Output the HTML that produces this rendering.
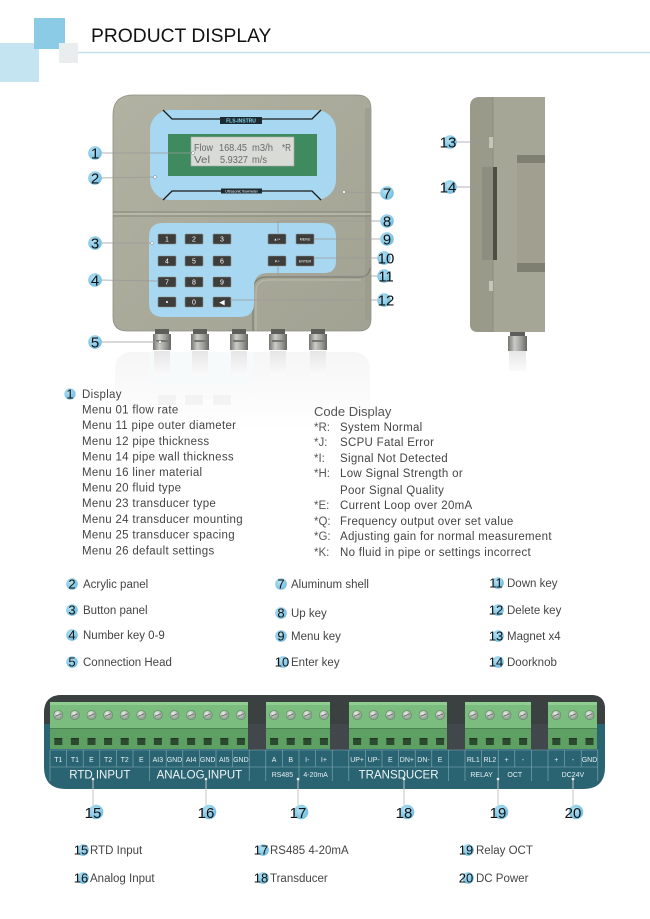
<!DOCTYPE html>
<html><head><meta charset="utf-8"><style>
html,body{margin:0;padding:0;background:#fff;}
svg{display:block;font-family:"Liberation Sans",Arial,sans-serif;}
.n{font-size:15px;fill:#111;text-anchor:middle;}
.ln{font-size:13px;fill:#111;text-anchor:middle;}
.t{font-size:11.5px;fill:#444;letter-spacing:0.3px;}
.lg{font-size:11.5px;fill:#444;}
.k{font-size:7px;fill:#fff;text-anchor:middle;}
.ks{font-size:3.6px;fill:#fff;text-anchor:middle;}
.r1{font-size:7px;fill:#e6eff1;text-anchor:middle;}
.r2{font-size:11.5px;fill:#eef4f5;text-anchor:middle;}
.r2s{font-size:7px;fill:#e6eff1;text-anchor:middle;}
.cl{stroke:#9a9a9a;stroke-width:0.8;fill:none;}
</style></head><body>
<svg width="650" height="919" viewBox="0 0 650 919" xmlns="http://www.w3.org/2000/svg">
<defs>
 <radialGradient id="cg" cx="40%" cy="35%" r="70%"><stop offset="0" stop-color="#b4e1f4"/><stop offset="1" stop-color="#6dbbdf"/></radialGradient>
 <linearGradient id="body" x1="0" y1="0" x2="1" y2="1"><stop offset="0" stop-color="#b2b2a3"/><stop offset="1" stop-color="#a2a293"/></linearGradient>
 <linearGradient id="metal" x1="0" x2="1"><stop offset="0" stop-color="#737370"/><stop offset=".35" stop-color="#cbcbc7"/><stop offset=".7" stop-color="#9c9c98"/><stop offset="1" stop-color="#666663"/></linearGradient>
 <radialGradient id="sg" cx="40%" cy="35%"><stop offset="0" stop-color="#f0f2f0"/><stop offset="1" stop-color="#9aa59a"/></radialGradient>
 <linearGradient id="refl" x1="0" y1="0" x2="0" y2="1"><stop offset="0" stop-color="#f6f6f6"/><stop offset="1" stop-color="#ffffff"/></linearGradient>
 <linearGradient id="grefl" x1="0" y1="0" x2="0" y2="1"><stop offset="0" stop-color="#e6e6e6"/><stop offset="1" stop-color="#fafafa"/></linearGradient>
 <g id="sc"><circle r="4.6" fill="url(#sg)" stroke="#5d8a60" stroke-width=".6"/><line x1="-3" y1="1.3" x2="3" y2="-1.3" stroke="#6d6d6d" stroke-width="1"/></g>
 <g id="ho"><rect x="-4" y="0" width="8" height="7" fill="#2c4a30"/><rect x="-4" y="0" width="8" height="1.2" fill="#1f3622"/></g>
 <clipPath id="bc"><path d="M62,695 H591 Q605,695 605,709 V767 Q605,789 583,789 H66 Q44,789 44,767 V713 Q44,695 62,695 Z"/></clipPath>
</defs>

<!-- HEADER -->
<rect x="0" y="43" width="39" height="39" fill="#c4e4f2"/>
<rect x="34" y="18" width="31" height="31" fill="#8ccbe6"/>
<rect x="59" y="43" width="19" height="20" fill="#e9eded"/>
<line x1="78" y1="52.5" x2="650" y2="52.5" stroke="#c6e1ef" stroke-width="1.6"/>
<text x="91" y="42" font-size="19.3" fill="#111">PRODUCT DISPLAY</text>

<!-- REFLECTION -->
<rect x="115" y="352" width="255" height="80" rx="16" fill="url(#refl)"/>
<path d="M163,385 H240 Q254,385 254,371 V352 H149 V371 Q149,385 163,385Z" fill="#f7fafb"/>
<g fill="#f3f3f3"><rect x="158" y="395" width="18" height="10"/><rect x="185" y="395" width="18" height="10"/><rect x="213" y="395" width="18" height="10"/></g>
<g fill="url(#grefl)"><rect x="154" y="351" width="16" height="24"/><rect x="192" y="351" width="16" height="24"/><rect x="231" y="351" width="16" height="24"/><rect x="270" y="351" width="16" height="24"/><rect x="310" y="351" width="16" height="24"/><rect x="509" y="351" width="17" height="20"/></g>

<!-- FRONT DEVICE -->
<path d="M133,95 H357 Q371,95 371,109 V319 Q371,331 359,331 H127 Q113,331 113,317 V115 Q113,95 133,95 Z" fill="url(#body)" stroke="#8f8f82" stroke-width="0.8"/>
<rect x="365" y="108" width="5" height="212" fill="#9a9a8b" opacity=".6"/>
<line x1="113" y1="212" x2="371" y2="212" stroke="#85857a" stroke-width="1"/>
<line x1="113" y1="214" x2="371" y2="214" stroke="#c4c4b6" stroke-width="1"/>
<line x1="113" y1="216" x2="371" y2="216" stroke="#85857a" stroke-width="1"/>
<path d="M253,331 V291 Q253,277 267,277 H360 Q369,277 370,268" fill="none" stroke="#7e7e72" stroke-width="1.2"/>
<path d="M256,331 V292 Q256,280 268,280 H361" fill="none" stroke="#c2c2b4" stroke-width="0.8"/>

<!-- display panel -->
<rect x="150" y="110" width="186" height="90" rx="20" fill="#a7d7f1"/>
<path d="M163,110 L172,119 L312,119 L321,110" fill="none" stroke="#1a1a1a" stroke-width="1.3"/>
<path d="M163,200 L172,191 L312,191 L321,200" fill="none" stroke="#1a1a1a" stroke-width="1.3"/>
<rect x="220" y="117" width="42" height="7" fill="#1d2a30"/>
<text x="241" y="122.6" font-size="5" fill="#7fd3ef" text-anchor="middle" font-weight="bold">FLS-INSTRU</text>
<rect x="221" y="188.5" width="41" height="5" fill="#1d2a30"/>
<text x="241.5" y="192.5" font-size="3.6" fill="#fff" text-anchor="middle">Ultrasonic flowmeter</text>
<rect x="168" y="134" width="149" height="42" fill="#3f8a5f"/>
<rect x="191" y="137" width="103" height="29" fill="#d9dbd6" stroke="#a8aba5" stroke-width=".6"/>
<g font-size="10" fill="#6a6a6a">
<text x="194" y="151" textLength="19" lengthAdjust="spacingAndGlyphs">Flow</text>
<text x="219" y="151" textLength="28" lengthAdjust="spacingAndGlyphs">168.45</text>
<text x="252" y="151" textLength="21" lengthAdjust="spacingAndGlyphs">m3/h</text>
<text x="282" y="151" textLength="9" lengthAdjust="spacingAndGlyphs">*R</text>
<text x="194" y="163" textLength="16" lengthAdjust="spacingAndGlyphs">Vel</text>
<text x="220" y="163" textLength="28" lengthAdjust="spacingAndGlyphs">5.9327</text>
<text x="252" y="163" textLength="15" lengthAdjust="spacingAndGlyphs">m/s</text>
</g>

<!-- keypad panel -->
<path d="M163,223 H322 Q336,223 336,237 V261 Q336,273 324,273 H268 Q254,273 254,287 V303 Q254,317 240,317 H163 Q149,317 149,303 V237 Q149,223 163,223 Z" fill="#a7d7f1"/>
<g fill="#3d3d3b" stroke="#8e8e88" stroke-width=".6">
<rect x="158" y="234" width="18" height="10" rx="1"/><rect x="185" y="234" width="18" height="10" rx="1"/><rect x="213" y="234" width="18" height="10" rx="1"/>
<rect x="158" y="256" width="18" height="10" rx="1"/><rect x="185" y="256" width="18" height="10" rx="1"/><rect x="213" y="256" width="18" height="10" rx="1"/>
<rect x="158" y="277" width="18" height="10" rx="1"/><rect x="185" y="277" width="18" height="10" rx="1"/><rect x="213" y="277" width="18" height="10" rx="1"/>
<rect x="158" y="297" width="18" height="10" rx="1"/><rect x="185" y="297" width="18" height="10" rx="1"/><rect x="213" y="297" width="18" height="10" rx="1"/>
<rect x="268" y="234" width="18" height="10" rx="1"/><rect x="296" y="234" width="18" height="10" rx="1"/>
<rect x="268" y="256" width="18" height="10" rx="1"/><rect x="296" y="256" width="18" height="10" rx="1"/>
</g>
<text class="k" x="167" y="241.5">1</text><text class="k" x="194" y="241.5">2</text><text class="k" x="222" y="241.5">3</text>
<text class="k" x="167" y="263.5">4</text><text class="k" x="194" y="263.5">5</text><text class="k" x="222" y="263.5">6</text>
<text class="k" x="167" y="284.5">7</text><text class="k" x="194" y="284.5">8</text><text class="k" x="222" y="284.5">9</text>
<text class="k" x="167" y="304.5">•</text><text class="k" x="194" y="304.5">0</text><text class="k" x="222" y="304.5">◀</text>
<text class="ks" x="277" y="240.5">▲/+</text><text class="ks" x="305" y="240.5">MENU</text>
<text class="ks" x="277" y="262.5">▼/-</text><text class="ks" x="305" y="262.5">ENTER</text>

<!-- glands -->
<g>
<rect x="155" y="329" width="14" height="5" fill="#5d5d59"/><rect x="153" y="334" width="18" height="16" fill="url(#metal)"/><rect x="156" y="340" width="12" height="2" fill="#77776f"/>
<rect x="193" y="329" width="14" height="5" fill="#5d5d59"/><rect x="191" y="334" width="18" height="16" fill="url(#metal)"/><rect x="194" y="340" width="12" height="2" fill="#77776f"/>
<rect x="232" y="329" width="14" height="5" fill="#5d5d59"/><rect x="230" y="334" width="18" height="16" fill="url(#metal)"/><rect x="233" y="340" width="12" height="2" fill="#77776f"/>
<rect x="271" y="329" width="14" height="5" fill="#5d5d59"/><rect x="269" y="334" width="18" height="16" fill="url(#metal)"/><rect x="272" y="340" width="12" height="2" fill="#77776f"/>
<rect x="311" y="329" width="14" height="5" fill="#5d5d59"/><rect x="309" y="334" width="18" height="16" fill="url(#metal)"/><rect x="312" y="340" width="12" height="2" fill="#77776f"/>
</g>

<!-- front callouts -->
<line class="cl" x1="101" y1="153" x2="193" y2="153"/><circle cx="193" cy="153" r="1.4" fill="#fff" stroke="#888" stroke-width=".5"/>
<line class="cl" x1="101" y1="178" x2="155" y2="177"/><circle cx="155" cy="177" r="1.4" fill="#fff" stroke="#888" stroke-width=".5"/>
<line class="cl" x1="101" y1="243" x2="152" y2="243"/><circle cx="152" cy="243" r="1.4" fill="#fff" stroke="#888" stroke-width=".5"/>
<line class="cl" x1="101" y1="280" x2="158" y2="281"/>
<line class="cl" x1="101" y1="342" x2="160" y2="342"/><circle cx="160" cy="342" r="1.4" fill="#fff" stroke="#888" stroke-width=".5"/>
<line class="cl" x1="380" y1="193" x2="344" y2="192"/><circle cx="344" cy="192" r="1.4" fill="#fff" stroke="#888" stroke-width=".5"/>
<polyline class="cl" points="380,221 278,221 278,233"/>
<line class="cl" x1="380" y1="239" x2="314" y2="239"/>
<line class="cl" x1="378" y1="258" x2="314" y2="258"/>
<polyline class="cl" points="378,276 278,276 278,266"/>
<line class="cl" x1="378" y1="300" x2="230" y2="300"/>
<g>
<circle cx="95" cy="153" r="6.8" fill="url(#cg)"/><text class="n" x="95" y="158.5">1</text>
<circle cx="95" cy="178" r="6.8" fill="url(#cg)"/><text class="n" x="95" y="183.5">2</text>
<circle cx="95" cy="243" r="6.8" fill="url(#cg)"/><text class="n" x="95" y="248.5">3</text>
<circle cx="95" cy="280" r="6.8" fill="url(#cg)"/><text class="n" x="95" y="285.5">4</text>
<circle cx="95" cy="342" r="6.8" fill="url(#cg)"/><text class="n" x="95" y="347.5">5</text>
<circle cx="387" cy="193" r="6.8" fill="url(#cg)"/><text class="n" x="387" y="198.5">7</text>
<circle cx="387" cy="221" r="6.8" fill="url(#cg)"/><text class="n" x="387" y="226.5">8</text>
<circle cx="387" cy="239" r="6.8" fill="url(#cg)"/><text class="n" x="387" y="244.5">9</text>
<circle cx="384" cy="258" r="6.8" fill="url(#cg)"/><text class="n" x="386" y="263.5">10</text>
<circle cx="384" cy="276" r="6.8" fill="url(#cg)"/><text class="n" x="386" y="281.5">11</text>
<circle cx="384" cy="300" r="6.8" fill="url(#cg)"/><text class="n" x="386" y="305.5">12</text>
</g>

<!-- SIDE VIEW -->
<path d="M480,97 H545 V332 H478 Q470,332 470,324 V107 Q470,97 480,97 Z" fill="#a6a696"/>
<path d="M480,97 H493 V332 H478 Q470,332 470,324 V107 Q470,97 480,97 Z" fill="#9a9a8b"/>
<line x1="493" y1="97" x2="493" y2="332" stroke="#8a8a7c" stroke-width=".8"/>
<rect x="517" y="155" width="28" height="117" fill="#a09f90"/>
<rect x="517" y="155" width="28" height="8" fill="#7e7e71"/>
<rect x="517" y="263" width="28" height="9" fill="#7e7e71"/>
<rect x="482" y="167" width="11" height="93" fill="#8e8e80"/>
<rect x="493" y="167" width="4" height="93" fill="#4e4e47"/>
<rect x="489" y="137" width="4" height="11" fill="#c5c5b8"/>
<rect x="489" y="281" width="4" height="10" fill="#c5c5b8"/>
<rect x="510" y="332" width="15" height="4" fill="#5d5d59"/>
<rect x="508" y="336" width="19" height="15" fill="url(#metal)"/>
<line class="cl" x1="454" y1="142" x2="490" y2="142"/>
<line class="cl" x1="454" y1="187" x2="482" y2="187"/>
<circle cx="450" cy="142" r="6.8" fill="url(#cg)"/><text class="n" x="448" y="147.5">13</text>
<circle cx="450" cy="187" r="6.8" fill="url(#cg)"/><text class="n" x="448" y="192.5">14</text>

<!-- DISPLAY LIST -->
<circle cx="70" cy="394" r="5.6" fill="url(#cg)"/><text class="ln" x="70" y="398.5">1</text>
<text class="t" x="82" y="398">Display</text>
<text class="t" x="82" y="413.5">Menu 01 flow rate</text>
<text class="t" x="82" y="429">Menu 11 pipe outer diameter</text>
<text class="t" x="82" y="445">Menu 12 pipe thickness</text>
<text class="t" x="82" y="460.5">Menu 14 pipe wall thickness</text>
<text class="t" x="82" y="476">Menu 16 liner material</text>
<text class="t" x="82" y="491.5">Menu 20 fluid type</text>
<text class="t" x="82" y="507">Menu 23 transducer type</text>
<text class="t" x="82" y="523">Menu 24 transducer mounting</text>
<text class="t" x="82" y="538.5">Menu 25 transducer spacing</text>
<text class="t" x="82" y="554.5">Menu 26 default settings</text>

<text x="314" y="416" font-size="13" fill="#555">Code Display</text>
<g font-size="11.5" fill="#555">
<text x="314" y="431">*R:</text><text x="314" y="446">*J:</text><text x="314" y="462">*I:</text><text x="314" y="477">*H:</text>
<text x="314" y="509">*E:</text><text x="314" y="525">*Q:</text><text x="314" y="540">*G:</text><text x="314" y="556">*K:</text>
</g>
<text class="t" x="340" y="431">System Normal</text>
<text class="t" x="340" y="446">SCPU Fatal Error</text>
<text class="t" x="340" y="462">Signal Not Detected</text>
<text class="t" x="340" y="477">Low Signal Strength or</text>
<text class="t" x="340" y="494">Poor Signal Quality</text>
<text class="t" x="340" y="509">Current Loop over 20mA</text>
<text class="t" x="340" y="525">Frequency output over set value</text>
<text class="t" x="340" y="540">Adjusting gain for normal measurement</text>
<text class="t" x="340" y="556">No fluid in pipe or settings incorrect</text>

<!-- LEGEND 1 -->
<g>
<circle cx="72" cy="584" r="5.8" fill="url(#cg)"/><text class="ln" x="72" y="588.5">2</text><text class="lg" x="83" y="588">Acrylic panel</text>
<circle cx="72" cy="610" r="5.8" fill="url(#cg)"/><text class="ln" x="72" y="614.5">3</text><text class="lg" x="83" y="614">Button panel</text>
<circle cx="72" cy="635" r="5.8" fill="url(#cg)"/><text class="ln" x="72" y="639.5">4</text><text class="lg" x="83" y="639">Number key 0-9</text>
<circle cx="72" cy="662" r="5.8" fill="url(#cg)"/><text class="ln" x="72" y="666.5">5</text><text class="lg" x="83" y="666">Connection Head</text>

<circle cx="281" cy="584" r="5.8" fill="url(#cg)"/><text class="ln" x="281" y="588.5">7</text><text class="lg" x="291" y="588">Aluminum shell</text>
<circle cx="281" cy="613" r="5.8" fill="url(#cg)"/><text class="ln" x="281" y="617.5">8</text><text class="lg" x="291" y="617">Up key</text>
<circle cx="281" cy="636" r="5.8" fill="url(#cg)"/><text class="ln" x="281" y="640.5">9</text><text class="lg" x="291" y="640">Menu key</text>
<circle cx="283" cy="662" r="5.8" fill="url(#cg)"/><text class="ln" x="282" y="666.5">10</text><text class="lg" x="291" y="666">Enter key</text>

<circle cx="498" cy="583" r="5.8" fill="url(#cg)"/><text class="ln" x="496" y="587.5">11</text><text class="lg" x="507" y="587">Down key</text>
<circle cx="498" cy="610" r="5.8" fill="url(#cg)"/><text class="ln" x="496" y="614.5">12</text><text class="lg" x="507" y="614">Delete key</text>
<circle cx="498" cy="636" r="5.8" fill="url(#cg)"/><text class="ln" x="496" y="640.5">13</text><text class="lg" x="507" y="640">Magnet x4</text>
<circle cx="498" cy="662" r="5.8" fill="url(#cg)"/><text class="ln" x="496" y="666.5">14</text><text class="lg" x="507" y="666">Doorknob</text>
</g>

<!-- TERMINAL BOARD -->
<path d="M62,695 H591 Q605,695 605,709 V767 Q605,789 583,789 H66 Q44,789 44,767 V713 Q44,695 62,695 Z" fill="#2a6472"/>
<g clip-path="url(#bc)">
<rect x="44" y="695" width="561" height="29" fill="#3b4041"/>
<rect x="248" y="724" width="18" height="26" fill="#41474a"/>
<rect x="330" y="724" width="19" height="26" fill="#41474a"/>
<rect x="447" y="724" width="18" height="26" fill="#41474a"/>
<rect x="531" y="724" width="17" height="26" fill="#41474a"/>
</g>
<g>
<rect x="50" y="702" width="198" height="47" fill="#5e9f63"/><rect x="50" y="702" width="198" height="26" fill="#7bbd7e"/><rect x="50" y="702" width="198" height="3" fill="#8fcd90"/>
<rect x="266" y="702" width="64" height="47" fill="#5e9f63"/><rect x="266" y="702" width="64" height="26" fill="#7bbd7e"/><rect x="266" y="702" width="64" height="3" fill="#8fcd90"/>
<rect x="349" y="702" width="98" height="47" fill="#5e9f63"/><rect x="349" y="702" width="98" height="26" fill="#7bbd7e"/><rect x="349" y="702" width="98" height="3" fill="#8fcd90"/>
<rect x="465" y="702" width="66" height="47" fill="#5e9f63"/><rect x="465" y="702" width="66" height="26" fill="#7bbd7e"/><rect x="465" y="702" width="66" height="3" fill="#8fcd90"/>
<rect x="548" y="702" width="49" height="47" fill="#5e9f63"/><rect x="548" y="702" width="49" height="26" fill="#7bbd7e"/><rect x="548" y="702" width="49" height="3" fill="#8fcd90"/>
<g stroke="#4a8450" stroke-width="1"><line x1="50" y1="728.5" x2="248" y2="728.5"/><line x1="266" y1="728.5" x2="330" y2="728.5"/><line x1="349" y1="728.5" x2="447" y2="728.5"/><line x1="465" y1="728.5" x2="531" y2="728.5"/><line x1="548" y1="728.5" x2="597" y2="728.5"/></g>
</g>
<g>
<use href="#sc" x="58.3" y="715"/><use href="#sc" x="74.9" y="715"/><use href="#sc" x="91.5" y="715"/><use href="#sc" x="108.1" y="715"/><use href="#sc" x="124.7" y="715"/><use href="#sc" x="141.3" y="715"/><use href="#sc" x="157.9" y="715"/><use href="#sc" x="174.5" y="715"/><use href="#sc" x="191.1" y="715"/><use href="#sc" x="207.7" y="715"/><use href="#sc" x="224.3" y="715"/><use href="#sc" x="240.9" y="715"/>
<use href="#sc" x="274.1" y="715"/><use href="#sc" x="290.7" y="715"/><use href="#sc" x="307.3" y="715"/><use href="#sc" x="323.9" y="715"/>
<use href="#sc" x="357.1" y="715"/><use href="#sc" x="373.7" y="715"/><use href="#sc" x="390.3" y="715"/><use href="#sc" x="406.9" y="715"/><use href="#sc" x="423.5" y="715"/><use href="#sc" x="440.1" y="715"/>
<use href="#sc" x="473.3" y="715"/><use href="#sc" x="489.9" y="715"/><use href="#sc" x="506.5" y="715"/><use href="#sc" x="523.1" y="715"/>
<use href="#sc" x="556.3" y="715"/><use href="#sc" x="572.9" y="715"/><use href="#sc" x="589.5" y="715"/>
</g>
<g>
<use href="#ho" x="58.3" y="738"/><use href="#ho" x="74.9" y="738"/><use href="#ho" x="91.5" y="738"/><use href="#ho" x="108.1" y="738"/><use href="#ho" x="124.7" y="738"/><use href="#ho" x="141.3" y="738"/><use href="#ho" x="157.9" y="738"/><use href="#ho" x="174.5" y="738"/><use href="#ho" x="191.1" y="738"/><use href="#ho" x="207.7" y="738"/><use href="#ho" x="224.3" y="738"/><use href="#ho" x="240.9" y="738"/>
<use href="#ho" x="274.1" y="738"/><use href="#ho" x="290.7" y="738"/><use href="#ho" x="307.3" y="738"/><use href="#ho" x="323.9" y="738"/>
<use href="#ho" x="357.1" y="738"/><use href="#ho" x="373.7" y="738"/><use href="#ho" x="390.3" y="738"/><use href="#ho" x="406.9" y="738"/><use href="#ho" x="423.5" y="738"/><use href="#ho" x="440.1" y="738"/>
<use href="#ho" x="473.3" y="738"/><use href="#ho" x="489.9" y="738"/><use href="#ho" x="506.5" y="738"/><use href="#ho" x="523.1" y="738"/>
<use href="#ho" x="556.3" y="738"/><use href="#ho" x="572.9" y="738"/><use href="#ho" x="589.5" y="738"/>
</g>
<g stroke="#86aeb8" stroke-width=".6">
<line x1="50" y1="750" x2="598" y2="750"/><line x1="50" y1="767" x2="598" y2="767"/>
<path d="M50,750V781 M66.6,750V767 M83.2,750V767 M99.8,750V767 M116.4,750V767 M133,750V767 M149.6,750V781 M166.2,750V767 M182.8,750V767 M199.4,750V767 M216,750V767 M232.6,750V767 M249.2,750V781 M265.8,750V781 M282.4,750V767 M299,750V781 M315.6,750V767 M332.2,750V781 M348.8,750V781 M365.4,750V767 M382,750V767 M398.6,750V767 M415.2,750V767 M431.8,750V767 M448.4,750V781 M465,750V781 M481.6,750V767 M498.2,750V781 M514.8,750V767 M531.4,750V781 M548,750V781 M564.6,750V767 M581.2,750V767 M597.8,750V781"/>
</g>
<g>
<text class="r1" x="58.3" y="762">T1</text><text class="r1" x="74.9" y="762">T1</text><text class="r1" x="91.5" y="762">E</text><text class="r1" x="108.1" y="762">T2</text><text class="r1" x="124.7" y="762">T2</text><text class="r1" x="141.3" y="762">E</text>
<text class="r1" x="157.9" y="762">AI3</text><text class="r1" x="174.5" y="762">GND</text><text class="r1" x="191.1" y="762">AI4</text><text class="r1" x="207.7" y="762">GND</text><text class="r1" x="224.3" y="762">AI5</text><text class="r1" x="240.9" y="762">GND</text>
<text class="r1" x="274.1" y="762">A</text><text class="r1" x="290.7" y="762">B</text><text class="r1" x="307.3" y="762">I-</text><text class="r1" x="323.9" y="762">I+</text>
<text class="r1" x="357.1" y="762">UP+</text><text class="r1" x="373.7" y="762">UP-</text><text class="r1" x="390.3" y="762">E</text><text class="r1" x="406.9" y="762">DN+</text><text class="r1" x="423.5" y="762">DN-</text><text class="r1" x="440.1" y="762">E</text>
<text class="r1" x="473.3" y="762">RL1</text><text class="r1" x="489.9" y="762">RL2</text><text class="r1" x="506.5" y="762">+</text><text class="r1" x="523.1" y="762">-</text>
<text class="r1" x="556.3" y="762">+</text><text class="r1" x="572.9" y="762">-</text><text class="r1" x="589.5" y="762">GND</text>
</g>
<text class="r2" x="99.8" y="778.5">RTD INPUT</text>
<text class="r2" x="199.4" y="778.5">ANALOG INPUT</text>
<text class="r2" x="398.6" y="778.5">TRANSDUCER</text>
<text class="r2s" x="282.4" y="777">RS485</text>
<text class="r2s" x="315.6" y="777">4-20mA</text>
<text class="r2s" x="481.6" y="777">RELAY</text>
<text class="r2s" x="514.8" y="777">OCT</text>
<text class="r2s" x="572.9" y="777">DC24V</text>

<g stroke="#c4c4c4" stroke-width="1">
<line x1="93" y1="779" x2="93" y2="805"/><line x1="206" y1="779" x2="206" y2="805"/><line x1="298" y1="779" x2="298" y2="805"/>
<line x1="404" y1="779" x2="404" y2="805"/><line x1="498" y1="779" x2="498" y2="805"/><line x1="573" y1="779" x2="573" y2="805"/>
</g>
<g fill="#e8e8e8"><circle cx="93" cy="779" r="1.3"/><circle cx="206" cy="779" r="1.3"/><circle cx="298" cy="779" r="1.3"/><circle cx="404" cy="779" r="1.3"/><circle cx="498" cy="779" r="1.3"/><circle cx="573" cy="779" r="1.3"/></g>
<g>
<circle cx="96" cy="812" r="7.3" fill="url(#cg)"/><text class="n" x="93" y="818" font-size="16">15</text>
<circle cx="209" cy="812" r="7.3" fill="url(#cg)"/><text class="n" x="206" y="818" font-size="16">16</text>
<circle cx="301" cy="812" r="7.3" fill="url(#cg)"/><text class="n" x="298" y="818" font-size="16">17</text>
<circle cx="407" cy="812" r="7.3" fill="url(#cg)"/><text class="n" x="404" y="818" font-size="16">18</text>
<circle cx="501" cy="812" r="7.3" fill="url(#cg)"/><text class="n" x="498" y="818" font-size="16">19</text>
<circle cx="576" cy="812" r="7.3" fill="url(#cg)"/><text class="n" x="573" y="818" font-size="16">20</text>
</g>

<!-- LEGEND 2 -->
<g>
<circle cx="83" cy="850" r="5.8" fill="url(#cg)"/><text class="ln" x="81" y="854.5">15</text><text class="lg" x="90" y="854">RTD Input</text>
<circle cx="83" cy="878" r="5.8" fill="url(#cg)"/><text class="ln" x="81" y="882.5">16</text><text class="lg" x="90" y="882">Analog Input</text>
<circle cx="263" cy="850" r="5.8" fill="url(#cg)"/><text class="ln" x="261" y="854.5">17</text><text class="lg" x="270" y="854">RS485 4-20mA</text>
<circle cx="263" cy="878" r="5.8" fill="url(#cg)"/><text class="ln" x="261" y="882.5">18</text><text class="lg" x="270" y="882">Transducer</text>
<circle cx="468" cy="850" r="5.8" fill="url(#cg)"/><text class="ln" x="466" y="854.5">19</text><text class="lg" x="476" y="854">Relay OCT</text>
<circle cx="468" cy="878" r="5.8" fill="url(#cg)"/><text class="ln" x="466" y="882.5">20</text><text class="lg" x="476" y="882">DC Power</text>
</g>
</svg>
</body></html>
